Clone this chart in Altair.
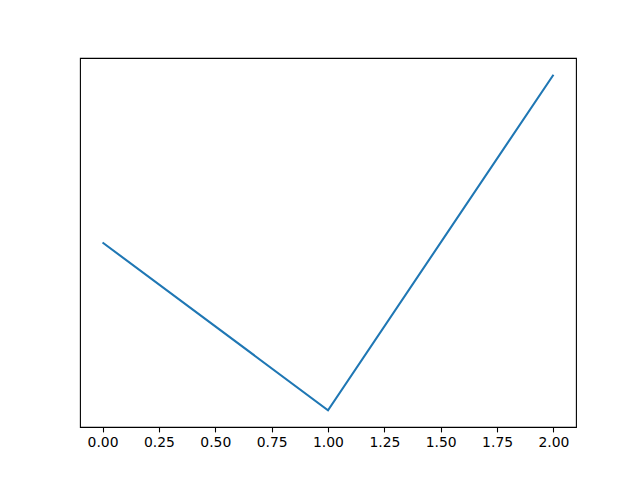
import altair as alt
import pandas as pd

xs = [0, 1, 2]
ys = [2, 1, 3]
x_ticks = [0.0, 0.25, 0.5, 0.75, 1.0, 1.25, 1.5, 1.75, 2.0]

df = pd.DataFrame({"x": xs, "y": ys})

chart = alt.Chart(df).mark_line(color="#1f77b4", strokeWidth=2.08).encode(
    x=alt.X("x:Q", scale=alt.Scale(domain=[-0.1, 2.1], nice=False, zero=False),
            axis=alt.Axis(values=x_ticks, format=".2f", title=None, grid=False,
                          domain=False, tickColor="black", tickSize=4.9, tickWidth=1.1,
                          labelPadding=4, labelFont="DejaVu Sans", labelFontSize=13.9,
                          labelColor="black")),
    y=alt.Y("y:Q", scale=alt.Scale(domain=[0.9, 3.1], nice=False, zero=False),
            axis=None),
).properties(
    width=496, height=369,
    autosize=alt.AutoSizeParams(type="none"),
    padding={"left": 72, "top": 50, "right": 56, "bottom": 45},
).configure_view(stroke="black", strokeWidth=1.1)

chart.save("out.html", embed_options={"renderer": "svg", "actions": False})
